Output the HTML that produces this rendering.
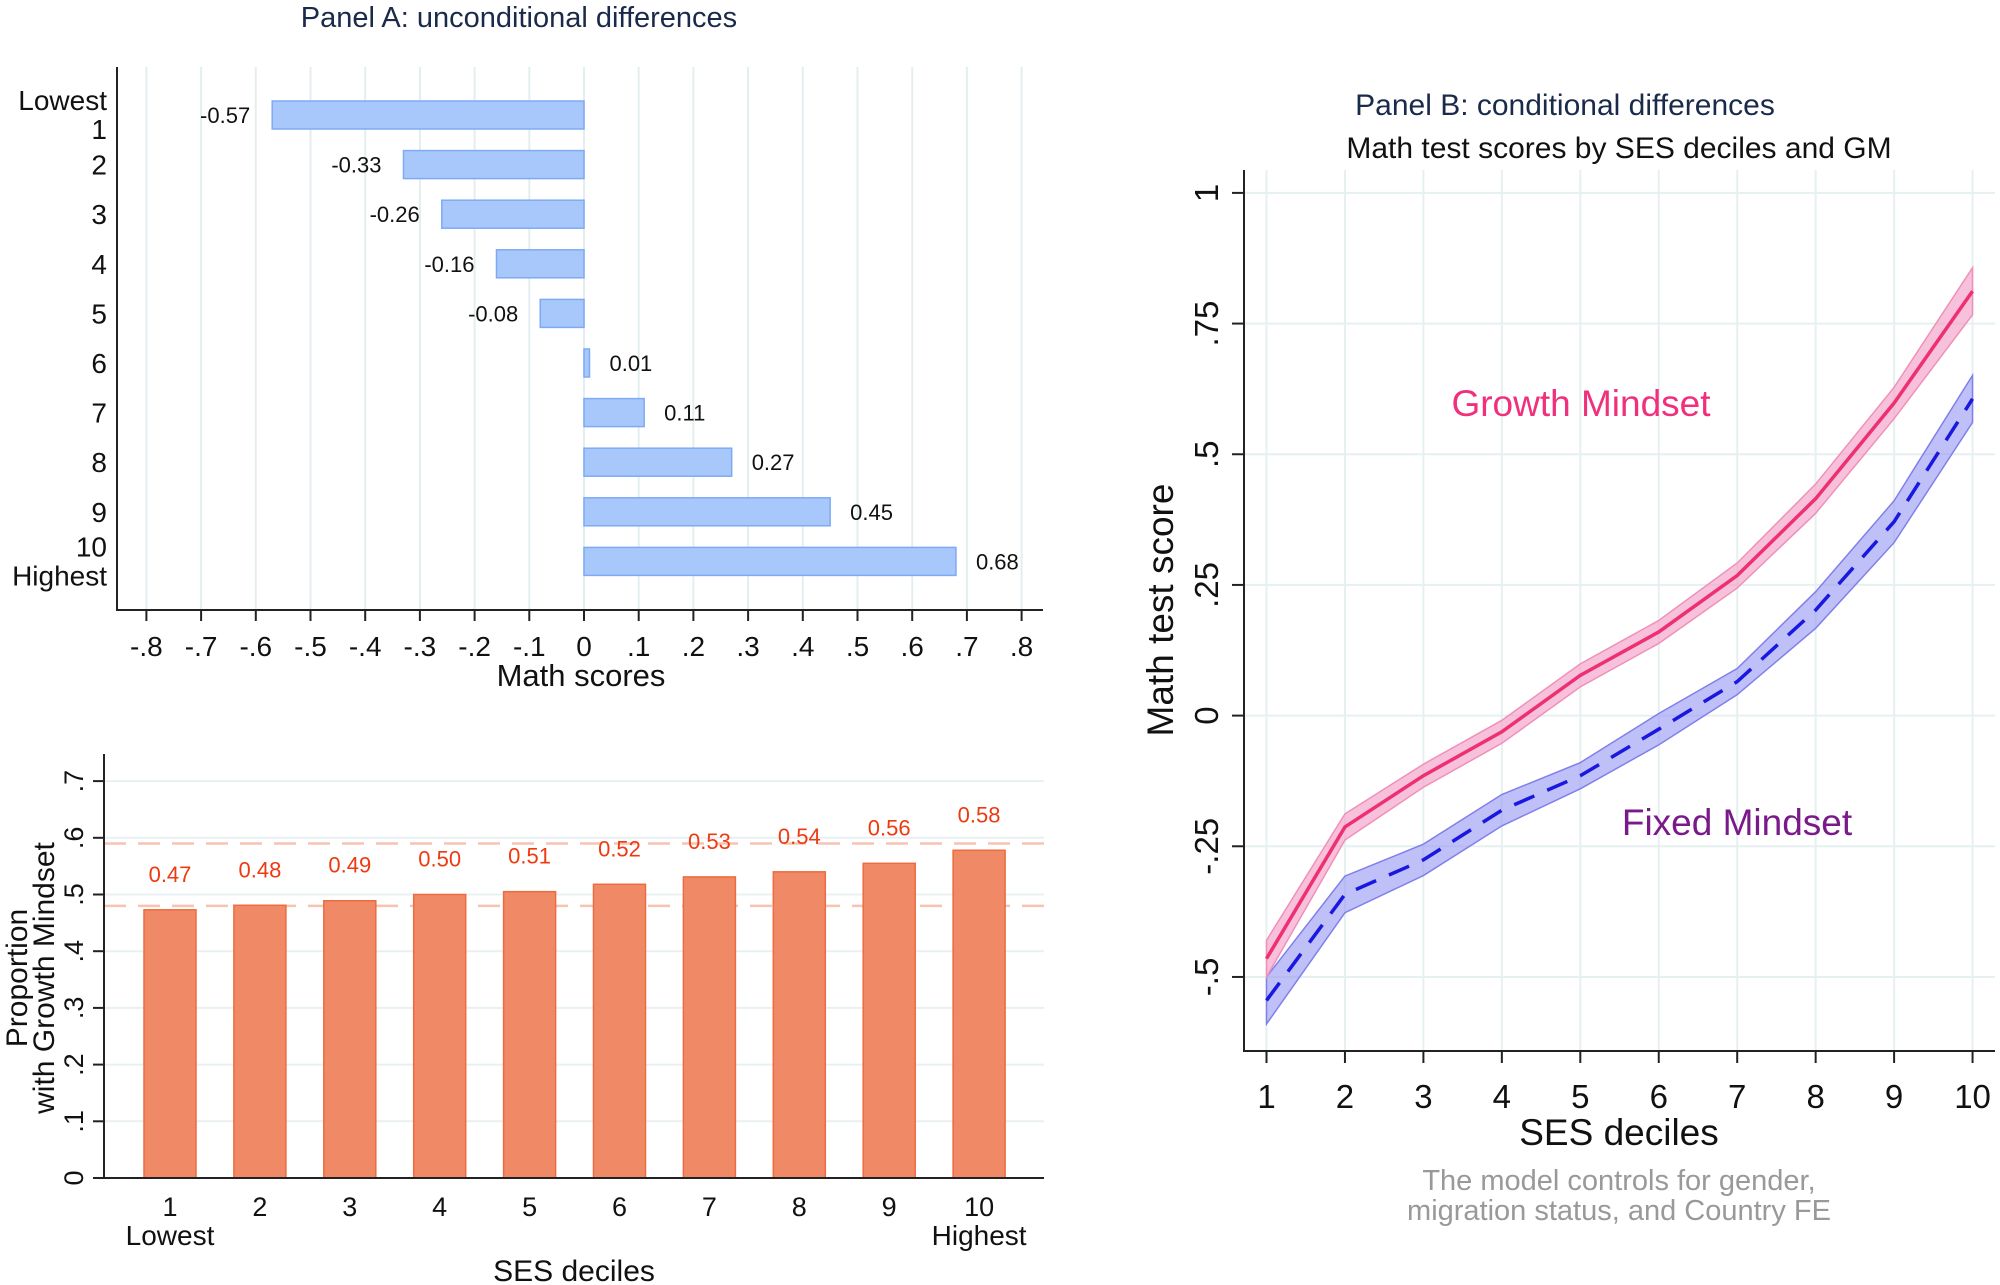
<!DOCTYPE html>
<html><head><meta charset="utf-8"><style>
html,body{margin:0;padding:0;background:#fff;}
svg{display:block;font-family:"Liberation Sans",Arial,sans-serif;}
</style></head><body>
<svg id="chart" width="2000" height="1285" viewBox="0 0 2000 1285" xmlns="http://www.w3.org/2000/svg">
<g id="pa"></g>
<g id="pc"></g>
<g id="pb"></g>
</svg>
<script>
// Panel A data
const aCats = ["1","2","3","4","5","6","7","8","9","10"];
const aVals = [-0.57,-0.33,-0.26,-0.16,-0.08,0.01,0.11,0.27,0.45,0.68];
const aTicks = [-0.8,-0.7,-0.6,-0.5,-0.4,-0.3,-0.2,-0.1,0,0.1,0.2,0.3,0.4,0.5,0.6,0.7,0.8];
// Proportion chart data
const cCats = ["1","2","3","4","5","6","7","8","9","10"];
const cVals = [0.473,0.481,0.489,0.500,0.505,0.518,0.531,0.540,0.555,0.578];
const cLabels = ["0.47","0.48","0.49","0.50","0.51","0.52","0.53","0.54","0.56","0.58"];
const cRefs = [0.59,0.48];
const cTicks = [0,0.1,0.2,0.3,0.4,0.5,0.6,0.7];
// Panel B data
const bX = [1,2,3,4,5,6,7,8,9,10];
const growth = [-0.465,-0.213,-0.115,-0.031,0.077,0.160,0.268,0.415,0.598,0.812];
const growthCI = [0.035,0.025,0.022,0.022,0.022,0.022,0.024,0.028,0.03,0.045];
const fixedV = [-0.545,-0.342,-0.276,-0.181,-0.115,-0.026,0.065,0.202,0.371,0.606];
const fixedCI = [0.045,0.035,0.03,0.03,0.025,0.03,0.025,0.035,0.04,0.045];
const bYTicks = [-0.5,-0.25,0,0.25,0.5,0.75,1];
const bYTickLabels = ["-.5","-.25","0",".25",".5",".75","1"];

const NS="http://www.w3.org/2000/svg";
function mk(parent,tag,attrs,text){const e=document.createElementNS(NS,tag);for(const k in attrs)e.setAttribute(k,attrs[k]);if(text!==undefined)e.textContent=text;parent.appendChild(e);return e;}
function fmt(v){if(v===0)return "0";let s=Math.abs(v).toFixed(1).replace(/^0/,"");return (v<0?"-":"")+s;}

// ---------- Panel A ----------
(function(){
const g=document.getElementById('pa');
const xA=v=>584+v*547;
const yA=i=>115+i*49.6;
let t=mk(g,'text',{x:519,y:27,'text-anchor':'middle','font-size':29,fill:'#1a2a4a'},'Panel A: unconditional differences');

aTicks.forEach(v=>{
  let l=mk(g,'line',{x1:xA(v),x2:xA(v),y1:67,y2:610,stroke:'#e4eef0','stroke-width':2});
  
  let tk=mk(g,'line',{x1:xA(v),x2:xA(v),y1:610,y2:621,stroke:'#222','stroke-width':2});
  
  let tl=mk(g,'text',{x:xA(v),y:656,'text-anchor':'middle','font-size':28,fill:'#111'},fmt(v));
  
});
let ax=mk(g,'line',{x1:117,x2:117,y1:67,y2:611,stroke:'#222','stroke-width':2});

ax=mk(g,'line',{x1:117,x2:1043,y1:610,y2:610,stroke:'#222','stroke-width':2});

aVals.forEach((v,i)=>{
  const x0=Math.min(xA(0),xA(v)),w=Math.abs(xA(v)-xA(0));
  let r=mk(g,'rect',{x:x0,y:yA(i)-14,width:Math.max(w,2),height:28,fill:'#a8c8fb',stroke:'#7eaaf5','stroke-width':1.5});
  
  const lab=v.toFixed(2);
  let vt=v<0?mk(g,'text',{x:xA(v)-22,y:yA(i)+8,'text-anchor':'end','font-size':22,fill:'#111'},lab)
           :mk(g,'text',{x:xA(v)+20,y:yA(i)+8,'text-anchor':'start','font-size':22,fill:'#111'},lab);
  
  let yl;
  if(i===0){yl=mk(g,'text',{x:107,y:yA(i)+24,'text-anchor':'end','font-size':28,fill:'#111'},aCats[i]);
    let e=mk(g,'text',{x:107,y:yA(i)-5,'text-anchor':'end','font-size':28,fill:'#111'},'Lowest');}
  else if(i===9){yl=mk(g,'text',{x:107,y:yA(i)-5,'text-anchor':'end','font-size':28,fill:'#111'},aCats[i]);
    let e=mk(g,'text',{x:107,y:yA(i)+24,'text-anchor':'end','font-size':28,fill:'#111'},'Highest');}
  else yl=mk(g,'text',{x:107,y:yA(i)+10,'text-anchor':'end','font-size':28,fill:'#111'},aCats[i]);
  
});
t=mk(g,'text',{x:581,y:686,'text-anchor':'middle','font-size':31,fill:'#111'},'Math scores');

})();

// ---------- Proportion chart ----------
(function(){
const g=document.getElementById('pc');
const yC=v=>1178-v*567;
const xC=i=>170+i*89.9;
cTicks.forEach(v=>{
  let l=mk(g,'line',{x1:104,x2:1044,y1:yC(v),y2:yC(v),stroke:'#e8f0f2','stroke-width':2});
  
  let tk=mk(g,'line',{x1:93,x2:104,y1:yC(v),y2:yC(v),stroke:'#222','stroke-width':2});
  
  const s=v===0?"0":fmt(v);
  let tl=mk(g,'text',{x:0,y:0,'text-anchor':'middle','font-size':27,fill:'#111',transform:`translate(83,${yC(v)}) rotate(-90)`},s);
  
});
cRefs.forEach(v=>{
  let l=mk(g,'line',{x1:104,x2:1044,y1:yC(v),y2:yC(v),stroke:'#f6c4b0','stroke-width':2.5,'stroke-dasharray':'22 12'});
  
});
cVals.forEach((v,i)=>{
  let r=mk(g,'rect',{x:xC(i)-26,y:yC(v),width:52,height:yC(0)-yC(v),fill:'#f08a66',stroke:'#ee6a40','stroke-width':1.5});
  
  let vt=mk(g,'text',{x:xC(i),y:yC(v)-28,'text-anchor':'middle','font-size':22,fill:'#ee3a10'},cLabels[i]);
  
  let xl=mk(g,'text',{x:xC(i),y:1216,'text-anchor':'middle','font-size':27,fill:'#111'},cCats[i]);
  
});
let e=mk(g,'text',{x:xC(0),y:1245,'text-anchor':'middle','font-size':28,fill:'#111'},'Lowest');
e=mk(g,'text',{x:xC(9),y:1245,'text-anchor':'middle','font-size':28,fill:'#111'},'Highest');
let ax=mk(g,'line',{x1:104,x2:104,y1:754,y2:1179,stroke:'#222','stroke-width':2});

ax=mk(g,'line',{x1:93,x2:1044,y1:1178,y2:1178,stroke:'#222','stroke-width':2});

e=mk(g,'text',{x:574,y:1281,'text-anchor':'middle','font-size':30,fill:'#111'},'SES deciles');
e=mk(g,'text',{x:0,y:0,'text-anchor':'middle','font-size':30,fill:'#111',transform:'translate(27,978) rotate(-90)'},'Proportion');
e=mk(g,'text',{x:0,y:0,'text-anchor':'middle','font-size':30,fill:'#111',transform:'translate(54,978) rotate(-90)'},'with Growth Mindset');
})();

// ---------- Panel B ----------
(function(){
const g=document.getElementById('pb');
const xB=v=>1266.5+(v-1)*78.45;
const yB=v=>715.6-v*522.7;
let e=mk(g,'text',{x:1565,y:115,'text-anchor':'middle','font-size':30,fill:'#1a2a4a'},'Panel B: conditional differences');
e=mk(g,'text',{x:1619,y:158,'text-anchor':'middle','font-size':30,fill:'#111'},'Math test scores by SES deciles and GM');
bYTicks.forEach((v,i)=>{
  let l=mk(g,'line',{x1:1244,x2:1995,y1:yB(v),y2:yB(v),stroke:'#e6f0f0','stroke-width':2});
  
  let tk=mk(g,'line',{x1:1232,x2:1244,y1:yB(v),y2:yB(v),stroke:'#222','stroke-width':2});
  
  let tl=mk(g,'text',{x:0,y:0,'text-anchor':'middle','font-size':33,fill:'#111',transform:`translate(1218,${yB(v)}) rotate(-90)`},bYTickLabels[i]);
  
});
bX.forEach(v=>{
  let l=mk(g,'line',{x1:xB(v),x2:xB(v),y1:170,y2:1051,stroke:'#e6f0f0','stroke-width':2});
  
  let tk=mk(g,'line',{x1:xB(v),x2:xB(v),y1:1051,y2:1063,stroke:'#222','stroke-width':2});
  
  let tl=mk(g,'text',{x:xB(v),y:1108,'text-anchor':'middle','font-size':33,fill:'#111'},String(v));
  
});
function band(vals,ci,fill,stroke,name){
  let up=vals.map((v,i)=>xB(bX[i])+','+yB(v+ci[i]));
  let lo=vals.map((v,i)=>xB(bX[i])+','+yB(v-ci[i])).reverse();
  let p=mk(g,'polygon',{points:up.concat(lo).join(' '),fill:fill,stroke:stroke,'stroke-width':1.5});
  
}
function line(vals,color,dash,name){
  let p=mk(g,'polyline',{points:vals.map((v,i)=>xB(bX[i])+','+yB(v)).join(' '),fill:'none',stroke:color,'stroke-width':3.5});
  if(dash)p.setAttribute('stroke-dasharray',dash);
  
}
band(fixedV,fixedCI,'rgba(150,150,245,0.6)','#8080ea','fixed-mindset-ci-band');
band(growth,growthCI,'rgba(245,160,200,0.65)','#f090b8','growth-mindset-ci-band');
line(fixedV,'#1818e0','22 14','fixed-mindset-line');
line(growth,'#ee2f72',null,'growth-mindset-line');
let ax=mk(g,'line',{x1:1244,x2:1244,y1:170,y2:1052,stroke:'#222','stroke-width':2});

ax=mk(g,'line',{x1:1243,x2:1995,y1:1051,y2:1051,stroke:'#222','stroke-width':2});

e=mk(g,'text',{x:1581,y:416,'text-anchor':'middle','font-size':37,fill:'#f0307c'},'Growth Mindset');
e=mk(g,'text',{x:1737,y:835,'text-anchor':'middle','font-size':37,fill:'#7a1a8a'},'Fixed Mindset');
e=mk(g,'text',{x:1619,y:1145,'text-anchor':'middle','font-size':37,fill:'#111'},'SES deciles');
e=mk(g,'text',{x:0,y:0,'text-anchor':'middle','font-size':37,fill:'#111',transform:'translate(1173,610) rotate(-90)'},'Math test score');
e=mk(g,'text',{x:1619,y:1190,'text-anchor':'middle','font-size':29,fill:'#999'},'The model controls for gender,');
e=mk(g,'text',{x:1619,y:1220,'text-anchor':'middle','font-size':29,fill:'#999'},'migration status, and Country FE');
})();
</script>
</body></html>
